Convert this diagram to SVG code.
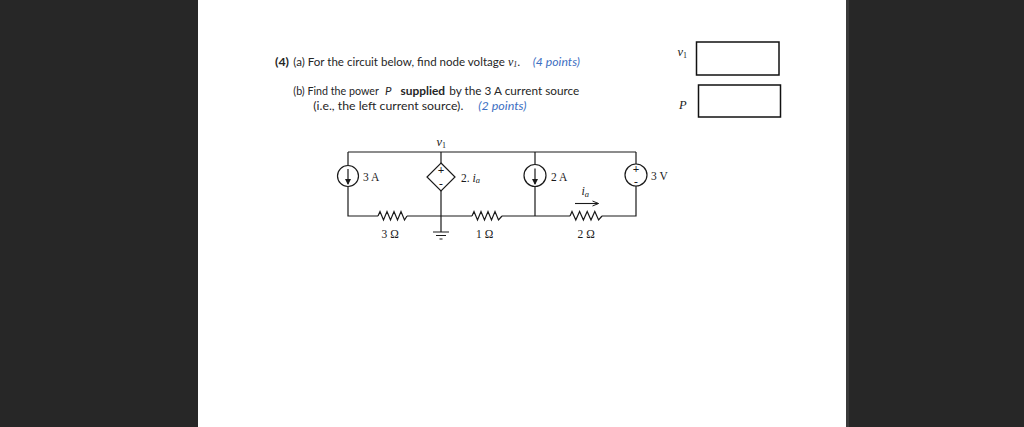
<svg xmlns="http://www.w3.org/2000/svg" width="1024" height="427" viewBox="0 0 1024 427">
<style>
.w{stroke:#1a1a1a;stroke-width:1.2;fill:none}
.src{stroke:#1a1a1a;stroke-width:1.2;fill:#fff}
.t{font-family:Lato,"Liberation Sans",sans-serif;font-size:11.5px;fill:#262626}
.b{font-weight:bold}
.i{font-style:italic}
.blue{fill:#3d6fc2}
.c{font-family:"Liberation Serif","DejaVu Serif",serif;font-size:11.5px;fill:#1a1a1a}
.m{font-family:"Liberation Serif","DejaVu Serif",serif;font-style:italic;fill:#1a1a1a}
.box{fill:#fff;stroke:#111;stroke-width:1.5}
</style>
<defs>
<marker id="ah" markerWidth="6" markerHeight="6" refX="5" refY="3" orient="auto" markerUnits="userSpaceOnUse">
<path d="M0,0 L6,3 L0,6 z" fill="#1a1a1a"/>
</marker>
<marker id="oa" markerWidth="8" markerHeight="8" refX="7" refY="4" orient="auto" markerUnits="userSpaceOnUse">
<path d="M1,1.5 L7,4 L1,6.5" fill="none" stroke="#1a1a1a" stroke-width="1"/>
</marker>
</defs>
<rect x="0" y="0" width="1024" height="427" fill="#272727"/>
<rect x="846" y="0" width="3" height="427" fill="#3a3a3a"/>
<rect x="198" y="0" width="648" height="427" fill="#fff"/>

<g id="question">
<text class="t b" x="275" y="65.5" textLength="14" lengthAdjust="spacingAndGlyphs">(4)</text>
<text class="t" x="293.3" y="65.5" textLength="211.5" lengthAdjust="spacingAndGlyphs">(a) For the circuit below, find node voltage</text>
<text class="m" x="508" y="65.5" font-size="12">v<tspan font-size="8" dy="1.5">1</tspan><tspan dy="-1.5" font-style="normal">.</tspan></text>
<text class="t i blue" x="532.7" y="65.5" textLength="47.3" lengthAdjust="spacingAndGlyphs">(4 points)</text>
<text class="t" x="293.3" y="95" textLength="85.5" lengthAdjust="spacingAndGlyphs">(b) Find the power</text>
<text class="t i" x="385" y="95">P</text>
<text class="t b" x="400.5" y="95" textLength="44.5" lengthAdjust="spacingAndGlyphs">supplied</text>
<text class="t" x="449.3" y="95" textLength="130" lengthAdjust="spacingAndGlyphs">by the 3 A current source</text>
<text class="t" x="313.3" y="110" textLength="150" lengthAdjust="spacingAndGlyphs">(i.e., the left current source).</text>
<text class="t i blue" x="478.3" y="110" textLength="48.3" lengthAdjust="spacingAndGlyphs">(2 points)</text>
</g>

<g id="answer-v1">
<text class="m" x="677.5" y="56" font-size="12.5">v<tspan font-size="8" font-style="normal" dy="2">1</tspan></text>
<rect class="box" x="696.5" y="42" width="82.5" height="33"/>
</g>
<g id="answer-P">
<text class="m" x="679" y="109" font-size="12.5">P</text>
<rect class="box" x="698.5" y="85" width="82" height="32"/>
</g>

<g id="connectors">
<path class="w" d="M348,152 H636"/>
<path class="w" d="M348,152 V165.5 M348,186.5 V216 H378"/>
<path class="w" d="M407,216 H472 M502,216 H570 M602,216 H636 V186 M636,164 V152"/>
<path class="w" d="M441,152 V163 M441,191 V232"/>
<path class="w" d="M535,152 V164.5 M535,186.5 V216"/>
</g>

<g id="src-3A">
<circle class="src" cx="348" cy="176" r="10.5"/>
<line x1="348" y1="169" x2="348" y2="184" stroke="#1a1a1a" stroke-width="1.2" marker-end="url(#ah)"/>
<text class="c" x="363" y="180.5">3 A</text>
</g>

<g id="dep-src">
<polygon class="src" points="441,163 455,177 441,191 427,177"/>
<text class="c" x="441" y="174" font-size="9.5" text-anchor="middle" font-weight="bold">+</text>
<text class="c" x="441" y="187" font-size="11" text-anchor="middle">-</text>
<text class="c" x="461" y="181.5">2. <tspan class="m" font-size="12">i</tspan><tspan class="m" font-size="8.5" dy="1.5">a</tspan></text>
</g>

<g id="node-v1">
<text class="m" x="436.5" y="145.5" font-size="12.5">v<tspan font-size="8" font-style="normal" dy="2">1</tspan></text>
</g>

<g id="src-2A">
<circle class="src" cx="535" cy="175.5" r="11"/>
<line x1="535" y1="168.5" x2="535" y2="184" stroke="#1a1a1a" stroke-width="1.2" marker-end="url(#ah)"/>
<text class="c" x="551" y="180.5">2 A</text>
</g>

<g id="src-3V">
<circle class="src" cx="636" cy="175" r="11"/>
<text class="c" x="636" y="172.5" font-size="9.5" text-anchor="middle" font-weight="bold">+</text>
<text class="c" x="636" y="185" font-size="11" text-anchor="middle">-</text>
<text class="c" x="651" y="180">3 V</text>
</g>

<g id="R3">
<polyline class="w" points="378,216 380,211.5 383.5,220 387,211.5 390.5,220 394,211.5 397.5,220 401,211.5 404.5,220 407,216"/>
<text class="c" x="381.5" y="237.5">3 Ω</text>
</g>
<g id="R1">
<polyline class="w" points="472,216 474,211.5 477.5,220 481,211.5 484.5,220 488,211.5 491.5,220 495,211.5 498.5,220 502,216"/>
<text class="c" x="476" y="237.5">1 Ω</text>
</g>
<g id="R2">
<polyline class="w" points="570,216 572,211.5 575.8,220 579.6,211.5 583.4,220 587.2,211.5 591,220 594.8,211.5 598.6,220 602,216"/>
<text class="c" x="577.5" y="237.5">2 Ω</text>
<line x1="575" y1="203.5" x2="598.5" y2="203.5" stroke="#1a1a1a" stroke-width="1.1" marker-end="url(#oa)"/>
<text class="m" x="581.5" y="195" font-size="12">i<tspan font-size="8.5" dy="1.5">a</tspan></text>
</g>

<g id="ground">
<path class="w" d="M433,232 H449 M436,235.5 H446 M439.5,239 H442.5"/>
</g>
</svg>
